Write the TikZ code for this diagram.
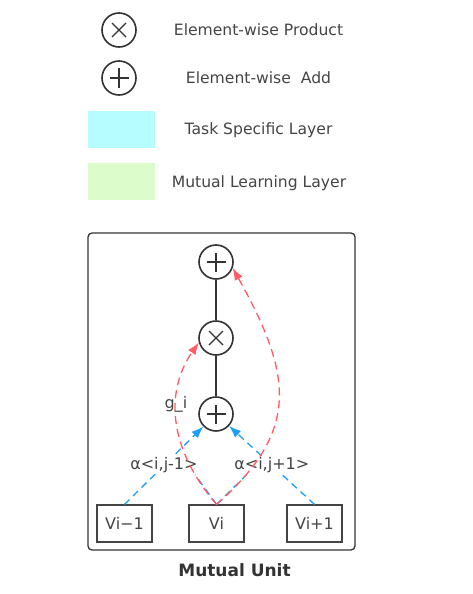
\documentclass[tikz,border=0pt]{standalone}
\usepackage{fontspec}
\setmainfont{DejaVu Sans}
\usetikzlibrary{arrows.meta}
\definecolor{ink}{HTML}{333333}
\definecolor{txt}{HTML}{444444}
\definecolor{redl}{HTML}{FF5C64}
\definecolor{bluel}{HTML}{1E9EF5}
\definecolor{cyanl}{HTML}{B6FDFF}
\definecolor{greenl}{HTML}{DCFDCB}
\tikzset{
  opc/.style={circle, draw=ink, line width=1.6pt, minimum size=34pt, inner sep=0pt},
  plusop/.style={opc, path picture={
     \draw[ink, line width=1.4pt] ([xshift=-9.5pt]path picture bounding box.center) -- ([xshift=9.5pt]path picture bounding box.center);
     \draw[ink, line width=1.4pt] ([yshift=-9.5pt]path picture bounding box.center) -- ([yshift=9.5pt]path picture bounding box.center);}},
  timesop/.style={opc, path picture={
     \draw[ink, line width=1.4pt] ([shift={(-7pt,-7pt)}]path picture bounding box.center) -- ([shift={(7pt,7pt)}]path picture bounding box.center);
     \draw[ink, line width=1.4pt] ([shift={(-7pt,7pt)}]path picture bounding box.center) -- ([shift={(7pt,-7pt)}]path picture bounding box.center);}},
  legtxt/.style={text=txt, font=\fontsize{15.6pt}{18pt}\selectfont, inner sep=0pt},
  swatch/.style={minimum width=67pt, minimum height=37pt, inner sep=0pt},
  vbox/.style={draw=txt, line width=1.2pt, minimum width=55pt, minimum height=37pt, inner sep=0pt, text=txt, font=\fontsize{16pt}{19pt}\selectfont},
  lab/.style={text=txt, font=\fontsize{16pt}{19pt}\selectfont, inner sep=1pt},
  conn/.style={draw=ink, line width=1.2pt},
  redarr/.style={draw=redl, line width=1.3pt, dash pattern=on 8pt off 5pt, -{Latex[length=12pt,width=9pt]}},
  bluearr/.style={draw=bluel, line width=1.3pt, dash pattern=on 7pt off 5pt, -{Latex[length=12pt,width=9pt]}},
  blueln/.style={draw=bluel, line width=1.3pt, dash pattern=on 7pt off 5pt},
}
\begin{document}
\begin{tikzpicture}[x=1pt,y=-1pt]
\useasboundingbox (0,0) rectangle (472,594);
% legend
\node[timesop] (lt) at (119,30) {};
\node[legtxt] (ltt) at (258.5,30) {Element-wise Product};
\node[plusop] (lp) at (119,78) {};
\node[legtxt] (lpt) at (258.5,78) {Element-wise\ \ Add};
\node[swatch, fill=cyanl] (lc) at (121.5,129) {};
\node[legtxt] (lct) at (258.5,130) {Task Specific Layer};
\node[swatch, fill=greenl] (lg) at (121.5,181.5) {};
\node[legtxt] (lgt) at (259,183) {Mutual Learning Layer};
% frame
\node[draw=ink, line width=1.3pt, rounded corners=4pt, minimum width=267pt, minimum height=317pt, inner sep=0pt] (frame) at (221.5,391.5) {};
% operators
\node[plusop] (p2) at (216,262) {};
\node[timesop] (m1) at (216,338) {};
\node[plusop] (p1) at (216,414) {};
\draw[conn] (p2) -- (m1);
\draw[conn] (m1) -- (p1);
% inputs
\node[vbox] (v1) at (124.5,523.5) {Vi−1};
\node[vbox] (v2) at (216.5,523.5) {Vi};
\node[vbox] (v3) at (314.5,523.5) {Vi+1};
% blue connectors
\draw[bluearr] (v1.north) -- node[lab, fill=white] (a1) {α<i,j-1>} (p1);
\draw[bluearr] (v3.north) -- node[lab, fill=white] (a2) {α<i,j+1>} (p1);
\draw[blueln] (v2.north) -- ([xshift=-4pt]a1.south east);
\draw[blueln] (v2.north) -- ([xshift=14pt]a2.south west);
% red connectors
\draw[redarr] (v2.north) .. controls (165,444) and (167,388) .. (m1.195);
\draw[redarr] (v2.north) .. controls (300,431) and (293,376) .. (p2.-20);
\node[lab] (gi) at (176,404) {g\_i};
% caption
\node[text=ink, font=\bfseries\fontsize{17pt}{20pt}\selectfont, inner sep=0pt] (cap) at (234.5,570) {Mutual Unit};
\end{tikzpicture}
\end{document}
